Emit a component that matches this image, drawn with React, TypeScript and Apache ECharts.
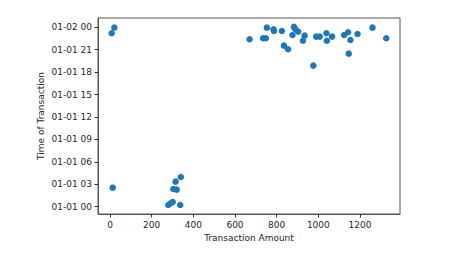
import React, { useEffect, useRef } from "react";
import * as echarts from "echarts";

const amounts: number[] = [
  8, 21, 13, 280, 291, 301, 337, 304, 320, 315, 340,
  670, 735, 748, 753, 785, 787, 825, 835, 855, 876, 883, 890, 903, 926, 934,
  976, 990, 1007, 1039, 1041, 1066, 1124, 1143, 1154, 1146, 1188, 1260, 1326,
];
// hours since 01-01 00:00
const hours: number[] = [
  23.2, 23.95, 2.54, 0.23, 0.45, 0.63, 0.23, 2.37, 2.28, 3.35, 3.97,
  22.4, 22.53, 22.53, 23.95, 23.73, 23.5, 23.5, 21.54, 21.06, 22.97, 24.05, 23.73, 23.42, 22.2, 22.88,
  18.87, 22.75, 22.75, 23.2, 22.2, 22.75, 22.97, 23.33, 22.3, 20.47, 23.1, 23.95, 22.53,
];
const xTicks: number[] = [0, 200, 400, 600, 800, 1000, 1200];
const yTicks: number[] = [0, 3, 6, 9, 12, 15, 18, 21, 24];

const fmtTime = (h: number) => {
  const day = 1 + Math.floor(h / 24);
  const hh = Math.round(h - (day - 1) * 24);
  return `01-${String(day).padStart(2, "0")} ${String(hh).padStart(2, "0")}`;
};

export default function App() {
  const ref = useRef<HTMLDivElement>(null);
  useEffect(() => {
    if (!ref.current) return;
    const chart = echarts.init(ref.current, undefined, { renderer: "svg" });
    const font = "DejaVu Sans";
    const textColor = "#262626";
    const lineColor = "#555";
    chart.setOption({
      animation: false,
      grid: {
        left: 98,
        top: 18,
        width: 302,
        height: 196,
        show: true,
        borderColor: lineColor,
        borderWidth: 1,
        backgroundColor: "#fff",
      },
      xAxis: {
        type: "value",
        min: -57.6,
        max: 1392,
        name: "Transaction Amount",
        nameLocation: "middle",
        nameGap: 19,
        nameMoveOverlap: false,
        nameTextStyle: { fontFamily: font, fontSize: 9, color: textColor, verticalAlign: "top" },
        splitLine: { show: false },
        axisLine: { show: true, onZero: false, lineStyle: { color: lineColor, width: 1 } },
        axisTick: { show: true, customValues: xTicks, length: 3.5, lineStyle: { color: "#333" } },
        axisLabel: {
          customValues: xTicks,
          margin: 6,
          fontFamily: font,
          fontSize: 9,
          color: textColor,
          formatter: (v: number) => String(v),
        },
      },
      yAxis: {
        type: "value",
        min: -0.98,
        max: 25.24,
        name: "Time of Transaction",
        nameLocation: "middle",
        nameGap: 53,
        nameMoveOverlap: false,
        nameTextStyle: { fontFamily: font, fontSize: 9, color: textColor },
        splitLine: { show: false },
        axisLine: { show: true, onZero: false, lineStyle: { color: lineColor, width: 1 } },
        axisTick: { show: true, customValues: yTicks, length: 3.5, lineStyle: { color: "#333" } },
        axisLabel: {
          customValues: yTicks,
          margin: 6,
          fontFamily: font,
          fontSize: 9,
          color: textColor,
          formatter: (v: number) => fmtTime(v),
        },
      },
      series: [
        {
          type: "scatter",
          data: amounts.map((a, i) => [a, hours[i]]),
          symbolSize: 6.5,
          itemStyle: { color: "#1f77b4", opacity: 1 },
        },
      ],
    });
    return () => chart.dispose();
  }, []);
  return <div ref={ref} style={{ width: 474, height: 259, position: "absolute", left: 0, top: 0 }} />;
}
